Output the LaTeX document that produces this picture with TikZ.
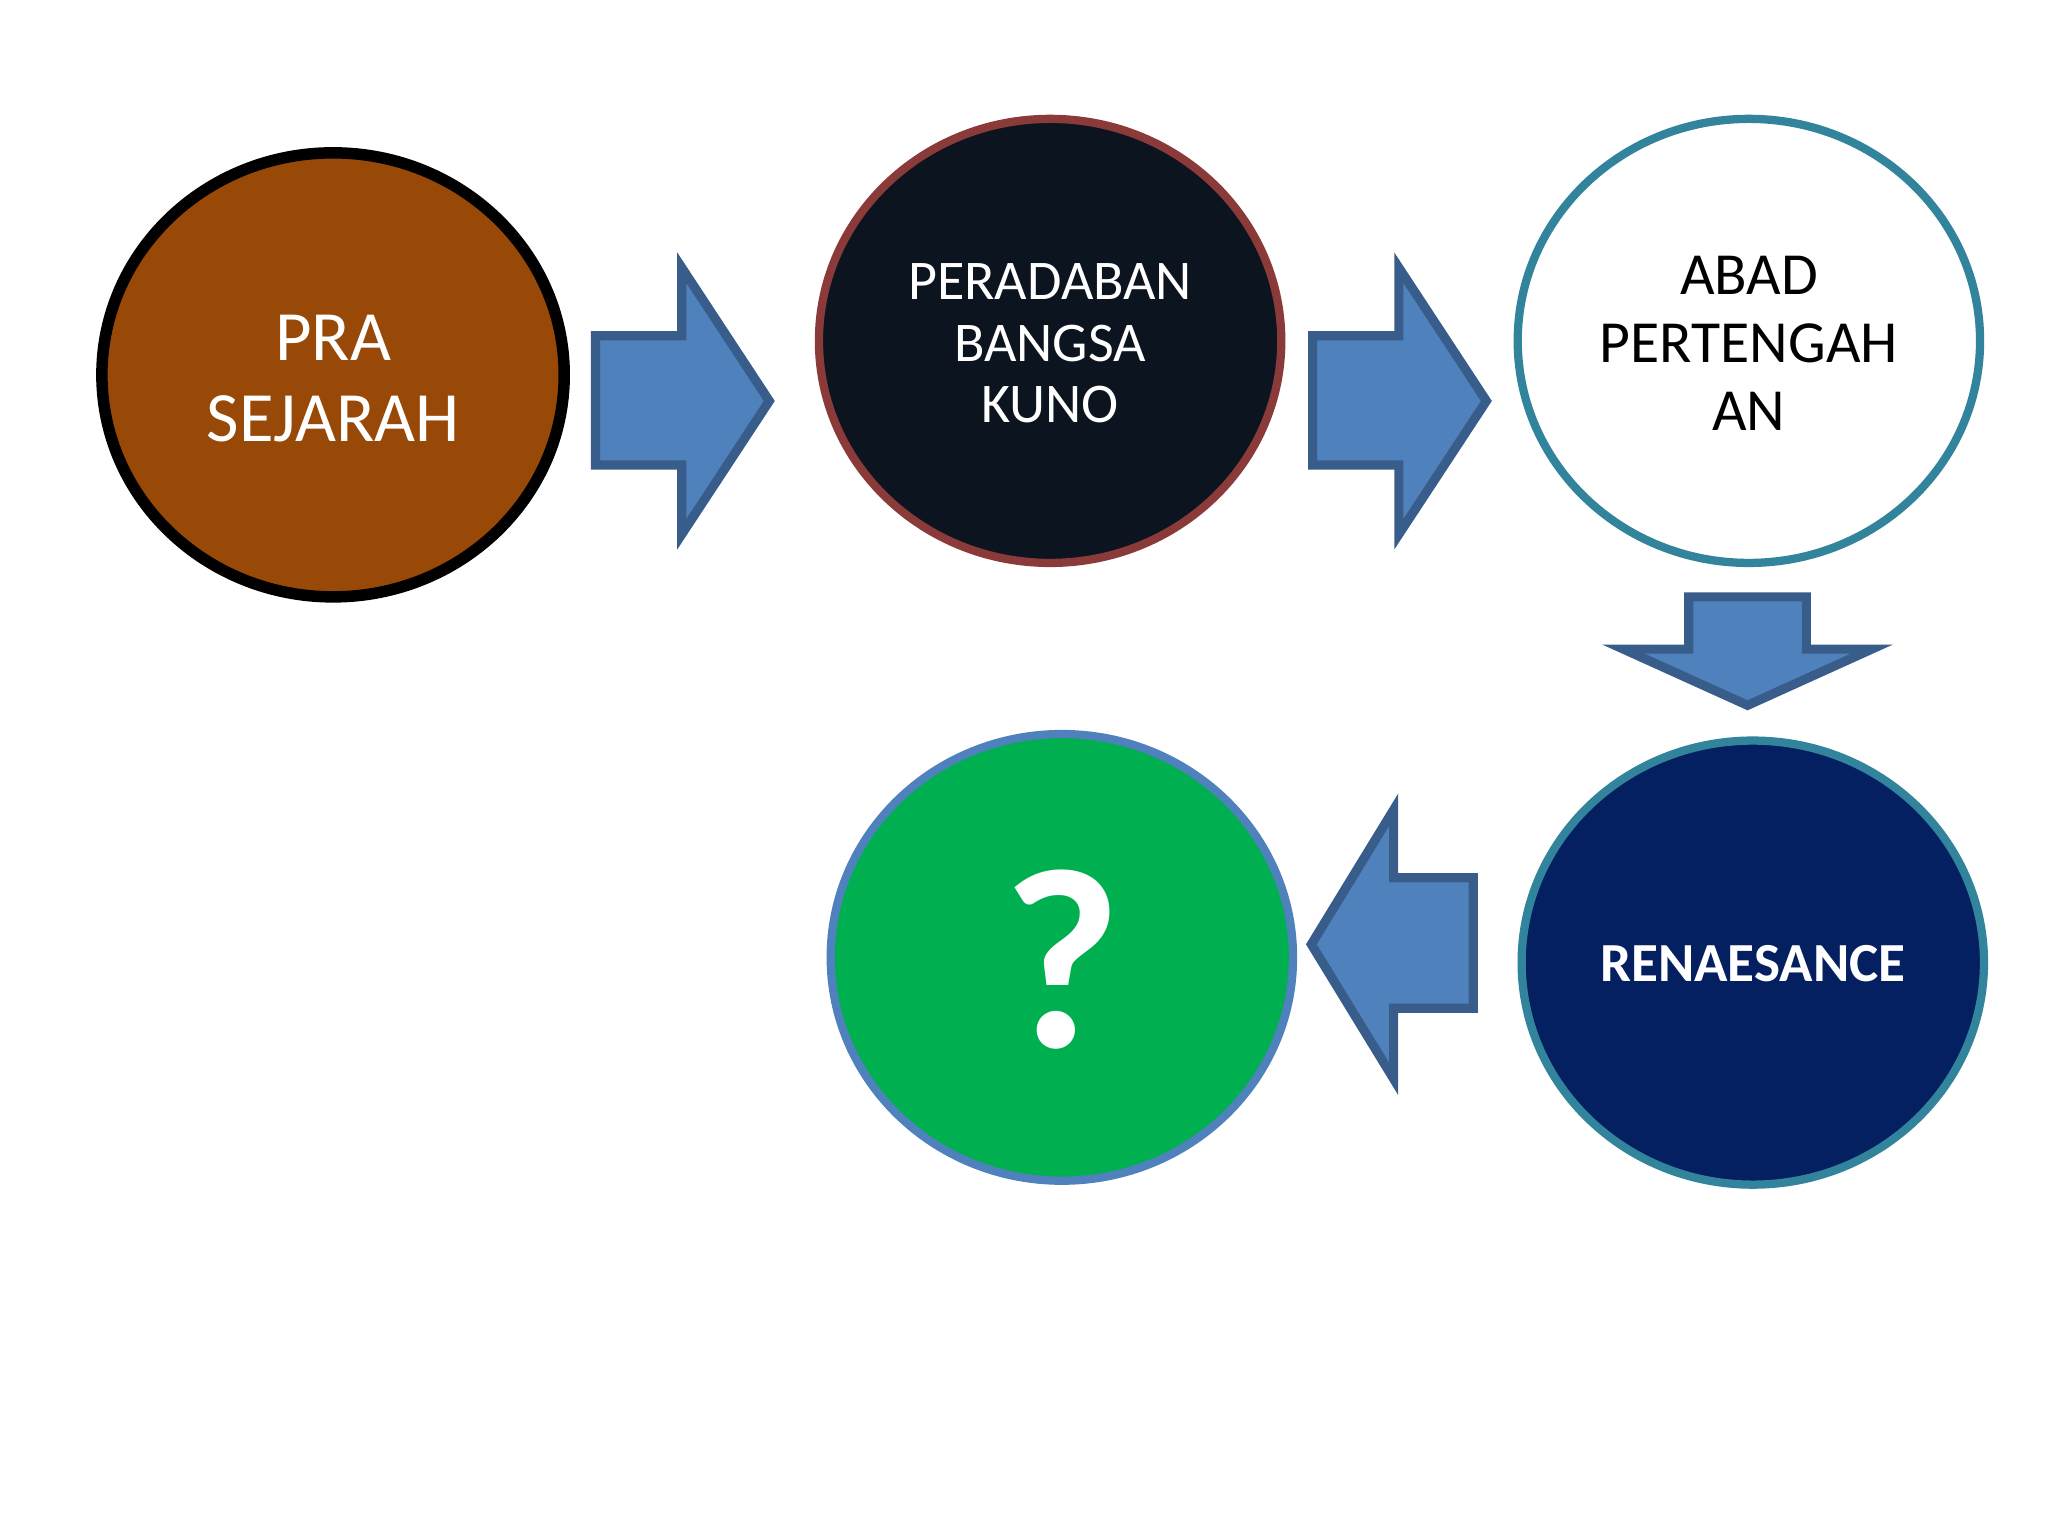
\documentclass[tikz,border=0pt]{standalone}
\usepackage{fontspec}
\setmainfont{Carlito}
\definecolor{brownf}{HTML}{984807}
\definecolor{darkf}{HTML}{0C1420}
\definecolor{redd}{HTML}{8B3A3A}
\definecolor{tealb}{HTML}{31849B}
\definecolor{navyf}{HTML}{042060}
\definecolor{greenf}{HTML}{00B050}
\definecolor{arrf}{HTML}{4F81BD}
\definecolor{arrd}{HTML}{385D8A}
\begin{document}
\begin{tikzpicture}[x=0.01cm,y=-0.01cm,
  blob/.style={ellipse,minimum width=354\pgflinewidth,line width=2.5pt,align=center},
  arr/.style={fill=arrf,draw=arrd,line width=2pt,line join=miter}]
\useasboundingbox[fill=white] (0,0) rectangle (1568,1176);
\draw[line width=2.5pt,fill=brownf] (255,287) ellipse [x radius=177,y radius=170];
\node[text=white,font=\fontsize{15.4}{17.6}\selectfont,align=center] (pra) at (255,290) {PRA\\SEJARAH};
\draw[line width=1.8pt,draw=redd,fill=darkf] (804,261) ellipse [x radius=177,y radius=170];
\node[text=white,font=\fontsize{12.2}{13.4}\selectfont,align=center] (pbk) at (804,263) {PERADABAN\\BANGSA\\KUNO};
\draw[line width=1.8pt,draw=tealb,fill=white] (1339,261) ellipse [x radius=177,y radius=170];
\node[text=black,font=\fontsize{13}{14.8}\selectfont,align=center] (abad) at (1339,263) {ABAD\\PERTENGAH\\AN};
\draw[line width=1.8pt,draw=tealb,fill=navyf] (1342,737) ellipse [x radius=177,y radius=170];
\node[text=white,font=\bfseries\fontsize{12}{14}\selectfont] (ren) at (1342,738) {RENAESANCE};
\draw[line width=1.8pt,draw=arrf,fill=greenf] (813,733) ellipse [x radius=177,y radius=171];
\node[text=white,font=\bfseries\fontsize{56}{60}\selectfont] (q) at (813,735) {?};
\draw[arr] (456,257)--(522,257)--(522,205)--(589,307)--(522,409)--(522,356)--(456,356)--cycle;
\draw[arr] (1005,257)--(1071,257)--(1071,205)--(1138,307)--(1071,409)--(1071,356)--(1005,356)--cycle;
\draw[arr] (1293,457)--(1383,457)--(1383,497)--(1433,497)--(1338,540)--(1243,497)--(1293,497)--cycle;
\draw[arr] (1128,672)--(1067,672)--(1067,620)--(1004,723)--(1067,826)--(1067,772)--(1128,772)--cycle;
\end{tikzpicture}
\end{document}
